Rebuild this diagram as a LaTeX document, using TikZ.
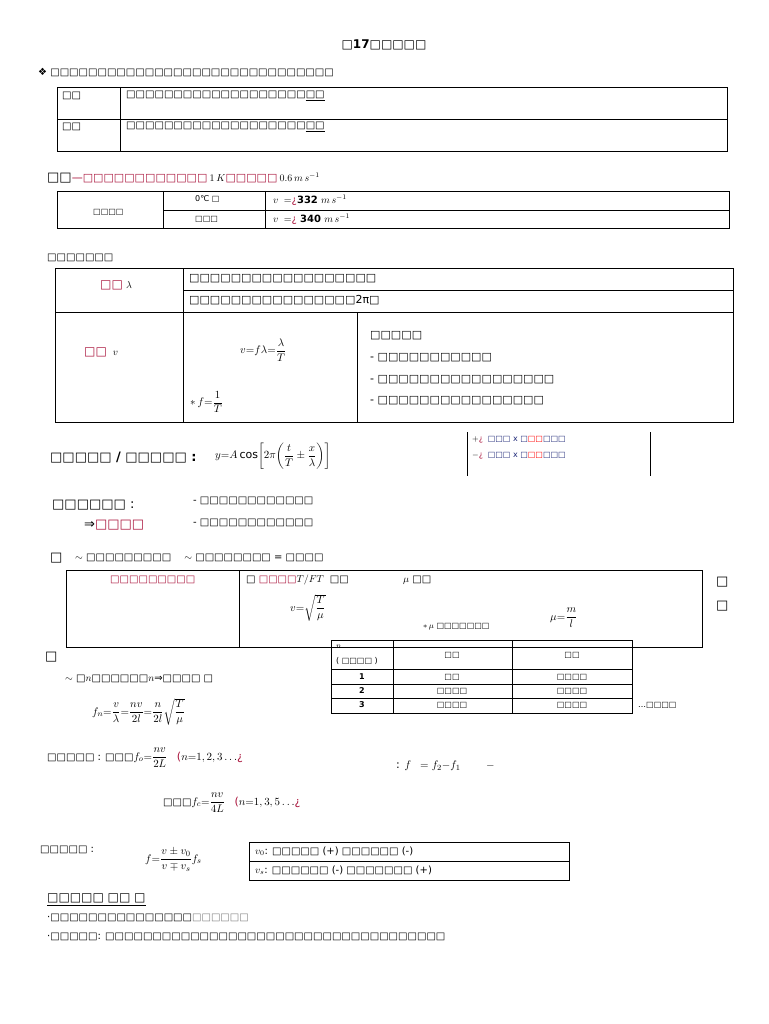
\documentclass[tikz,border=0pt]{standalone}
\usepackage{fontspec}
\setmainfont{DejaVu Sans}
\usepackage{amsmath}
\definecolor{dred}{RGB}{170,20,60}
\definecolor{dblue}{RGB}{30,40,120}
\begin{document}
\begin{tikzpicture}[x=1pt,y=-1pt,
 t/.style={anchor=west,inner sep=0pt,font=\fontsize{10}{11}\selectfont},
 m/.style={anchor=west,inner sep=0pt,font=\fontsize{11}{12}\selectfont},
 s/.style={anchor=west,inner sep=0pt,font=\fontsize{8}{9}\selectfont},
 b/.style={anchor=west,inner sep=0pt,font=\fontsize{13}{14}\selectfont},
 box/.style={draw,line width=0.5pt}]
\useasboundingbox (0,0) rectangle (768,1024);
\fill[white] (0,0) rectangle (768,1024);
\node[inner sep=0pt,font=\bfseries\fontsize{12}{13}\selectfont] (title) at (384,45) {□17□□□□□};
\node[t] (n1) at (38,72) {❖ □□□□□□□□□□□□□□□□□□□□□□□□□□□□□□};
\draw[box] (57,87) rectangle (727,151); \draw (57,119)--(727,119); \draw (120,87)--(120,151);
\node[t] (r1a) at (62,96) {□□}; \node[t] (r1b) at (126,96) {□□□□□□□□□□□□□□□□□□□\underline{□□}};
\node[t] (r2a) at (62,127) {□□}; \node[t] (r2b) at (126,127) {□□□□□□□□□□□□□□□□□□□\underline{□□}};
\node[b] (sd) at (47,178) {□□\textcolor{dred}{\fontsize{11}{12}\selectfont—□□□□□□□□□□□□}\,{\normalsize $1\,K$}\textcolor{dred}{\fontsize{11}{12}\selectfont□□□□□}\,{\normalsize $0.6\,m\,s^{-1}$}};
\draw[box] (57,191) rectangle (729,228); \draw (163,210)--(729,210); \draw (163,191)--(163,228); \draw (265,191)--(265,228);
\node[s] (c1) at (93,212) {□□□□};
\node[s] (c2) at (195,199) {0℃ □}; \node[s] (c3) at (195,219) {□□□};
\node[t] (c4) at (273,200) {$v\;=$\textcolor{dred}{¿}\textbf{332} $m\,s^{-1}$};
\node[t] (c5) at (273,219) {$v\;=$\textcolor{dred}{¿} \textbf{340} $m\,s^{-1}$};
\node[t] (h2) at (47,258) {□□□□□□□};
\draw[box] (55,268) rectangle (733,312); \draw (183,290)--(733,290); \draw (183,268)--(183,312);
\node[t] (w1) at (100,285) {\textcolor{dred}{\large □□} $\lambda$};
\node[m] (w2) at (189,279) {□□□□□□□□□□□□□□□□□□};
\node[m] (w3) at (189,300) {□□□□□□□□□□□□□□□□2π□};
\draw[box] (55,312) rectangle (733,422); \draw (183,312)--(183,422); \draw (357,312)--(357,422);
\node[t] (v1) at (84,352) {\textcolor{dred}{\large □□} \;$v$};
\node[m] (v2) at (240,350) {$v{=}f\lambda{=}\dfrac{\lambda}{T}$};
\node[m] (v3) at (190,402) {$*\,f{=}\dfrac{1}{T}$};
\node[m] (v4) at (370,336) {□□□□□};
\node[m] (v5) at (370,358) {- □□□□□□□□□□□};
\node[m] (v6) at (370,380) {- □□□□□□□□□□□□□□□□□};
\node[m] (v7) at (370,401) {- □□□□□□□□□□□□□□□□};
\node[b,font=\bfseries\fontsize{13}{14}\selectfont] (eq) at (50,458) {□□□□□ / □□□□□ :};
\node[m] (eqf) at (215,456) {$y{=}A\cos\!\left[2\pi\!\left(\dfrac{t}{T}\pm\dfrac{x}{\lambda}\right)\right]$};
\draw (467,432)--(467,476); \draw (650,432)--(650,476);
\node[s] (p1) at (472,440) {$+$\textcolor{dred}{¿}\; \textcolor{dblue}{□□□ x □\textcolor{red}{□□}□□□}};
\node[s] (p2) at (472,456) {$-$\textcolor{dred}{¿}\; \textcolor{dblue}{□□□ x □\textcolor{red}{□□}□□□}};
\node[b] (s1) at (52,505) {□□□□□□ :};
\node[b] (s2) at (84,525) {⇒\textcolor{dred}{□□□□}};
\node[t] (s3) at (193,501) {- □□□□□□□□□□□□};
\node[t] (s4) at (193,523) {- □□□□□□□□□□□□};
\node[b] (k) at (50,558) {□};
\node[t] (k2) at (75,558) {$\sim$ □□□□□□□□□ \quad $\sim$ □□□□□□□□ = □□□□};
\draw[box] (66,570) rectangle (702,647); \draw (239,570)--(239,647);
\node[t] (k3) at (110,580) {\textcolor{dred}{□□□□□□□□□}};
\node[t] (k4) at (246,580) {□ \textcolor{dred}{□□□□}$T/FT$ \;□□ \hspace{48pt} $\mu$ □□};
\node[m] (k5) at (290,608) {$v{=}\sqrt{\dfrac{T}{\mu}}$};
\node[m] (k6) at (550,618) {$\mu{=}\dfrac{m}{l}$};
\node[s] (k7) at (423,627) {$*\,\mu$ □□□□□□□};
\node[b] (k8) at (716,582) {□}; \node[b] (k9) at (716,606) {□};
\node[b] (g) at (45,657) {□};
\node[t] (g2) at (65,679) {$\sim$ □$n$□□□□□□$n$⇒□□□□ □};
\node[m] (g3) at (92,712) {$f_n{=}\dfrac{v}{\lambda}{=}\dfrac{nv}{2l}{=}\dfrac{n}{2l}\sqrt{\dfrac{T}{\mu}}$};
\draw[box] (331,640) rectangle (632,713);
\draw (331,669)--(632,669); \draw (331,684)--(632,684); \draw (331,698)--(632,698);
\draw (393,640)--(393,713); \draw (512,640)--(512,713);
\node[s] (tn) at (336,647) {$n$}; \node[s] (tn2) at (336,661) {( □□□□ )};
\node[s,anchor=center] (th1) at (452,655) {□□}; \node[s,anchor=center] (th2) at (572,655) {□□};
\foreach \y/\n/\a/\b in {677/1/□□/□□□□,691/2/□□□□/□□□□,705/3/□□□□/□□□□}{
 \node[s,anchor=center,font=\bfseries\fontsize{8}{9}\selectfont] at (362,\y) {\n};
 \node[s,anchor=center] at (452,\y) {\a}; \node[s,anchor=center] at (572,\y) {\b};}
\node[s] (dots) at (638,705) {…□□□□};
\node[m] (o1) at (47,758) {{\fontsize{10}{11}\selectfont□□□□□ : □□□}$f_o{=}\dfrac{nv}{2L}$\;\; \textcolor{dred}{(}$n{=}1,2,3\ldots$\textcolor{dred}{¿}};
\node[m] (o2) at (396,766) {: $f\;\;=f_2{-}f_1$ \qquad $-$};
\node[m] (o3) at (163,803) {{\fontsize{10}{11}\selectfont□□□}$f_c{=}\dfrac{nv}{4L}$\;\; \textcolor{dred}{(}$n{=}1,3,5\ldots$\textcolor{dred}{¿}};
\node[t] (d1) at (40,850) {□□□□□ :};
\node[m] (d2) at (145,860) {$f{=}\dfrac{v\pm v_0}{v\mp v_s}f_s$};
\draw[box] (249,842) rectangle (569,880); \draw (249,861)--(569,861);
\node[t] (d3) at (255,851) {$v_0$: □□□□□ (+) □□□□□□ (-)};
\node[t] (d4) at (255,870) {$v_s$: □□□□□□ (-) □□□□□□□ (+)};
\node[t] (e1) at (47,900) {\large\underline{□□}\underline{□□□ □□ □}};
\node[t] (e2) at (47,918) {·□□□□□□□□□□□□□□□\textcolor{gray}{□□□□□□}};
\node[t] (e3) at (47,937) {·□□□□□: □□□□□□□□□□□□□□□□□□□□□□□□□□□□□□□□□□□□};
\end{tikzpicture}
\end{document}
